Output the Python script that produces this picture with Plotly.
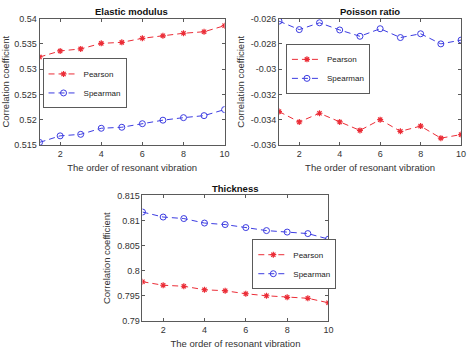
import plotly.graph_objects as go

order = [1, 2, 3, 4, 5, 6, 7, 8, 9, 10]

elastic_pearson = [0.5324, 0.5336, 0.5340, 0.5351, 0.5353, 0.5361, 0.5366, 0.5371, 0.5374, 0.5386]
elastic_spearman = [0.5155, 0.5168, 0.5171, 0.5183, 0.5185, 0.5192, 0.5199, 0.5204, 0.5208, 0.5220]

poisson_pearson = [-0.03336, -0.03418, -0.03349, -0.03418, -0.03485, -0.03400, -0.03492, -0.03451, -0.03546, -0.03518]
poisson_spearman = [-0.02620, -0.02687, -0.02633, -0.02690, -0.02740, -0.02680, -0.02750, -0.02720, -0.02800, -0.02770]

thick_pearson = [0.7978, 0.7971, 0.7969, 0.7962, 0.7960, 0.7954, 0.7950, 0.7947, 0.7945, 0.7936]
thick_spearman = [0.8117, 0.8107, 0.8104, 0.8095, 0.8092, 0.8086, 0.8080, 0.8077, 0.8074, 0.8063]

x_ticks = [2, 4, 6, 8, 10]
elastic_yticks = [0.515, 0.52, 0.525, 0.53, 0.535, 0.54]
elastic_ylabels = ["0.515", "0.52", "0.525", "0.53", "0.535", "0.54"]
poisson_yticks = [-0.036, -0.034, -0.032, -0.03, -0.028, -0.026]
poisson_ylabels = ["-0.036", "-0.034", "-0.032", "-0.03", "-0.028", "-0.026"]
thick_yticks = [0.79, 0.795, 0.8, 0.805, 0.81, 0.815]
thick_ylabels = ["0.79", "0.795", "0.8", "0.805", "0.81", "0.815"]

titles = ["Elastic modulus", "Poisson ratio", "Thickness"]
xlabel = "The order of resonant vibration"
ylabel = "Correlation coefficient"

RED = "rgb(235,45,55)"
BLUE = "rgb(60,60,225)"
AX = "#5a5a5a"
FONT = "Liberation Sans, Arial, sans-serif"
DASH = "6px,4px"

fig = go.Figure()

panels = [
    (elastic_pearson, elastic_spearman, "x", "y", "legend"),
    (poisson_pearson, poisson_spearman, "x2", "y2", "legend2"),
    (thick_pearson, thick_spearman, "x3", "y3", "legend3"),
]
for p, s, xa, ya, lg in panels:
    fig.add_trace(go.Scatter(
        x=order, y=p, mode="lines+markers", name="Pearson", xaxis=xa, yaxis=ya, legend=lg,
        line=dict(color=RED, width=1, dash=DASH),
        marker=dict(symbol="asterisk-open", size=5, color=RED, line=dict(color=RED, width=1.2)),
    ))
    fig.add_trace(go.Scatter(
        x=order, y=s, mode="lines+markers", name="Spearman", xaxis=xa, yaxis=ya, legend=lg,
        line=dict(color=BLUE, width=1, dash=DASH),
        marker=dict(symbol="circle-open", size=6, color=BLUE, line=dict(color=BLUE, width=1)),
    ))

W, H = 474, 355
def fx(px):
    return px / W
def fy(py):
    return 1 - py / H

common_axis = dict(
    showline=True, linecolor=AX, linewidth=1, mirror="ticks",
    ticks="inside", ticklen=3, tickcolor=AX, tickwidth=1,
    showgrid=False, zeroline=False,
    tickfont=dict(family=FONT, size=9, color="#333"),
)
title_font = dict(family=FONT, size=9.5, color="#333")

doms = [
    ((40, 227), (14, 144), elastic_yticks, elastic_ylabels),
    ((282, 466), (14, 144), poisson_yticks, poisson_ylabels),
    ((144, 332), (196, 325), thick_yticks, thick_ylabels),
]
layout = {}
for i, ((x0, x1), (y0, y1), yt, yl) in enumerate(doms):
    suf = "" if i == 0 else str(i + 1)
    layout["xaxis" + suf] = dict(
        common_axis, domain=[fx(x0), fx(x1)], range=[1, 10],
        tickvals=x_ticks, anchor="y" + suf,
        title=dict(text=xlabel, font=title_font, standoff=6),
    )
    layout["yaxis" + suf] = dict(
        common_axis, domain=[fy(y1), fy(y0)], range=[yt[0], yt[-1]],
        tickvals=yt, ticktext=yl, anchor="x" + suf,
        title=dict(text=ylabel, font=title_font, standoff=4),
    )

legend_common = dict(
    xanchor="left", yanchor="top", bgcolor="white", bordercolor=AX, borderwidth=1,
    font=dict(family=FONT, size=8, color="#222"), itemwidth=30, tracegroupgap=0,
)
layout["legend"] = dict(legend_common, x=fx(43), y=fy(55))
layout["legend2"] = dict(legend_common, x=fx(289), y=fy(40))
layout["legend3"] = dict(legend_common, x=fx(255), y=fy(241))

annotations = []
for t, (cx, cy) in zip(titles, [(133, 7), (374, 7), (238, 189)]):
    annotations.append(dict(
        text="<b>" + t + "</b>", x=fx(cx), y=fy(cy), xref="paper", yref="paper",
        showarrow=False, xanchor="center", yanchor="middle",
        font=dict(family=FONT, size=9.5, color="#111"),
    ))

fig.update_layout(
    width=W, height=H, margin=dict(l=0, r=0, t=0, b=0),
    paper_bgcolor="white", plot_bgcolor="white",
    showlegend=True, annotations=annotations, **layout,
)

fig.write_html(
    "out.html",
    config={"displayModeBar": False},
    post_script="document.body.style.margin='0';document.body.style.overflow='hidden';",
)
